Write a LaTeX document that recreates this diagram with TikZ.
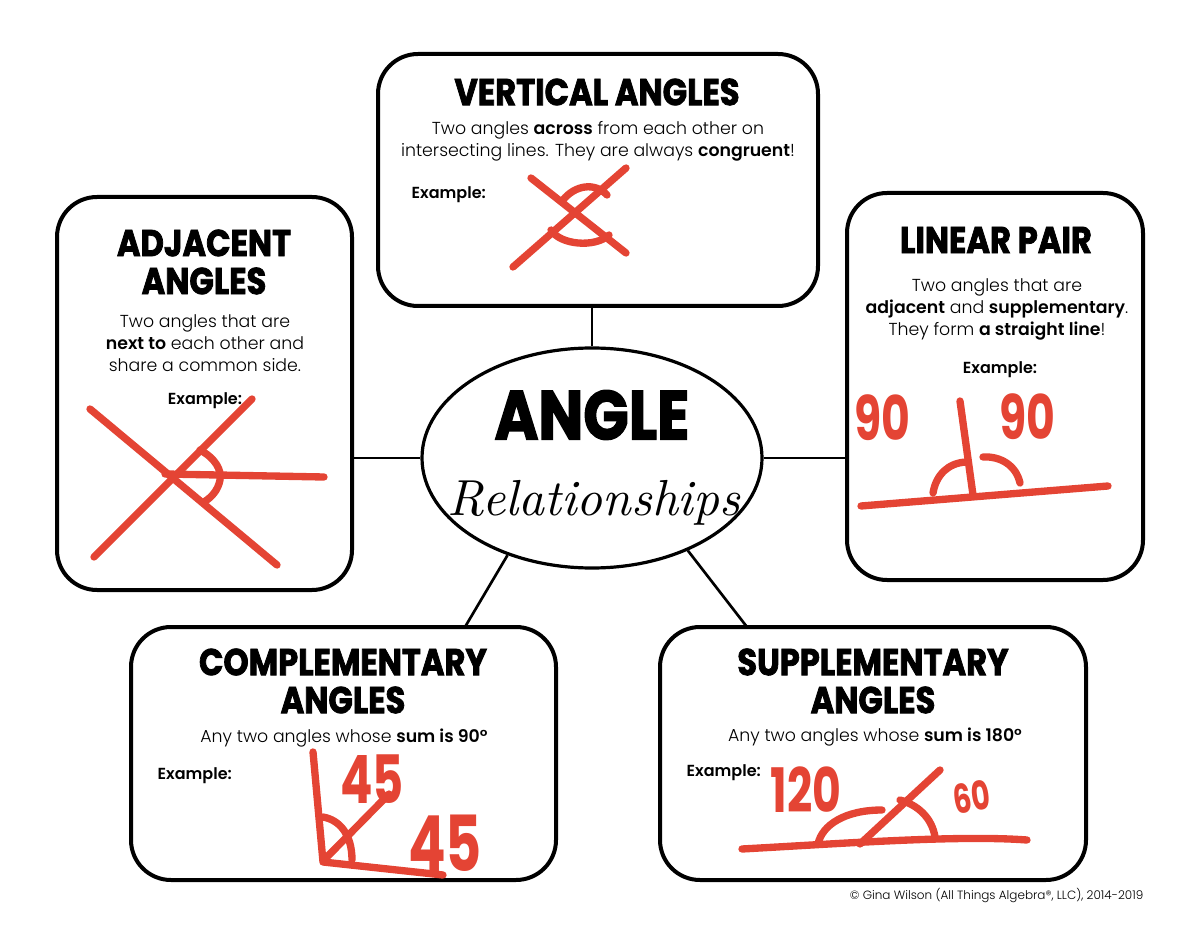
\documentclass[tikz,border=0pt]{standalone}
\usepackage{fontspec}
\setmainfont{Poppins}[UprightFont=* Light, BoldFont=* SemiBold]
\newfontfamily\headfont{Poppins}[FakeStretch=0.86, FakeBold=2]
\newfontfamily\handfont{Poppins}[FakeStretch=0.72]
\newfontfamily\relfont{lmroman10-italic.otf}
\usetikzlibrary{shapes.geometric}
\definecolor{pen}{RGB}{228,68,52}

\begin{document}
\begin{tikzpicture}[x=0.75pt,y=0.75pt,yscale=-1,xscale=1,
  card/.style={draw, line width=3pt, rounded corners=30pt, inner sep=0pt},
  link/.style={line width=2pt},
  heading/.style={font=\headfont\bfseries\fontsize{28}{28.5}\selectfont, align=center},
  body/.style={font=\fontsize{13}{16.5}\selectfont, align=center},
  example/.style={font=\bfseries\fontsize{12}{14}\selectfont},
  sketch/.style={pen, line width=5.5pt, line cap=round, line join=round},
  digits/.style={text=pen, font=\handfont\bfseries\fontsize{46}{46}\selectfont, inner sep=0pt}]
\useasboundingbox (0,0) rectangle (1200,927);
%Shape: Rounded Rect [vert]
\node[card, minimum width=330pt, minimum height=189pt] (vert) at (598,180) {};
%Shape: Rounded Rect [adj]
\node[card, minimum width=221.25pt, minimum height=294.75pt] (adj) at (204.5,393.5) {};
%Shape: Rounded Rect [lin]
\node[card, minimum width=222pt, minimum height=290.25pt] (lin) at (995,386.5) {};
%Shape: Rounded Rect [comp]
\node[card, minimum width=318.75pt, minimum height=189.75pt] (comp) at (343.5,753.5) {};
%Shape: Rounded Rect [supp]
\node[card, minimum width=319.5pt, minimum height=189.75pt] (supp) at (873,753.5) {};
%Shape: Ellipse [ell]
\node[draw, ellipse, line width=2.4pt, minimum width=255pt, minimum height=165pt, inner sep=0pt] (ell) at (592,458) {};
\coordinate (compin) at (465,627);
\coordinate (suppin) at (747,627);
%Straight Lines
\draw[link] (ell.north |- vert.south) -- (ell.north);
\draw[link] (adj.east |- ell.west) -- (ell.west);
\draw[link] (ell.east) -- (lin.west |- ell.east);
\draw[link] (ell.229) -- (compin);
\draw[link] (ell.316) -- (suppin);
% Text Node
\node[font=\headfont\bfseries\fontsize{52}{52}\selectfont] (angle) at (592,415) {ANGLE};
% Text Node
\node[anchor=base, font=\relfont\fontsize{38}{38}\selectfont] (rel) at (594,515) {Relationships};
% Text Node
\node[heading] (verth) at (597,92) {VERTICAL ANGLES};
\node[body] (vertb) at (598,141) {Two angles \textbf{across} from each other on\\intersecting lines. They are always \textbf{congruent}!};
\node[example, anchor=west] (verte) at (407,195) {Example:};
% Text Node
\node[heading] (adjh) at (204,262) {ADJACENT\\ANGLES};
\node[body] (adjb) at (205,343) {Two angles that are\\\textbf{next to} each other and\\share a common side.};
\node[example] (adje) at (205,401) {Example:};
% Text Node
\node[heading] (linh) at (996,240) {LINEAR PAIR};
\node[body] (linb) at (997,309) {Two angles that are\\\textbf{adjacent} and \textbf{supplementary}.\\They form \textbf{a straight line}!};
\node[example] (line) at (1000,370) {Example:};
% Text Node
\node[heading] (comph) at (343,681) {COMPLEMENTARY\\ANGLES};
\node[body] (compb) at (344,738) {Any two angles whose \textbf{sum is 90°}};
\node[example, anchor=west] (compe) at (153,776) {Example:};
% Text Node
\node[heading] (supph) at (873,681) {SUPPLEMENTARY\\ANGLES};
\node[body] (suppb) at (875,737) {Any two angles whose \textbf{sum is 180°}};
\node[example, anchor=west] (suppe) at (682,773) {Example:};
% Text Node
\node[anchor=east, font=\fontsize{9}{10}\selectfont] (credit) at (1148,895) {© Gina Wilson (All Things Algebra®, LLC), 2014-2019};
%Pen: vertical angles
\draw[sketch] (513,267) -- (626,168);
\draw[sketch] (531,178) -- (626,253);
\draw[sketch] (563,200) .. controls (575,185) and (595,182) .. (607,195);
\draw[sketch] (551,230) .. controls (560,245) and (595,248) .. (609,235);
%Pen: adjacent angles
\draw[sketch] (90,409) -- (277,565);
\draw[sketch] (94,557) -- (252,399);
\draw[sketch] (165,474) -- (324,477);
\draw[sketch] (200,450) .. controls (215,458) and (222,470) .. (220,480) .. controls (218,490) and (212,497) .. (204,502);
%Pen: linear pair
\draw[sketch] (861,506) -- (1108,486);
\draw[sketch] (960,401) -- (973,495);
\draw[sketch] (933,493) .. controls (936,475) and (948,463) .. (966,462);
\draw[sketch] (983,457) .. controls (1000,456) and (1016,465) .. (1020,483);
\node[digits] (linl) at (882,418) {90};
\node[digits] (linr) at (1027,417) {90};
%Pen: complementary angles
\draw[sketch] (313,752) -- (323,862) -- (443,875);
\draw[sketch] (324,860) -- (389,794);
\draw[sketch] (323,817) .. controls (340,820) and (352,835) .. (352,860);
\node[digits, font=\handfont\bfseries\fontsize{50}{50}\selectfont] (compu) at (372,779) {45};
\node[digits, font=\handfont\bfseries\fontsize{58}{58}\selectfont] (compl) at (445,843) {45};
%Pen: supplementary angles
\draw[sketch] (742,849) .. controls (850,843) and (960,835) .. (1027,840);
\draw[sketch] (860,844) -- (940,770);
\draw[sketch] (818,844) .. controls (822,825) and (845,810) .. (882,810);
\draw[sketch] (900,800) .. controls (918,805) and (932,818) .. (935,837);
\node[digits] (suppl) at (806,790) {120};
\node[digits, rotate=8, font=\handfont\bfseries\fontsize{30}{30}\selectfont] (suppr) at (972,797) {60};
\end{tikzpicture}
\end{document}
